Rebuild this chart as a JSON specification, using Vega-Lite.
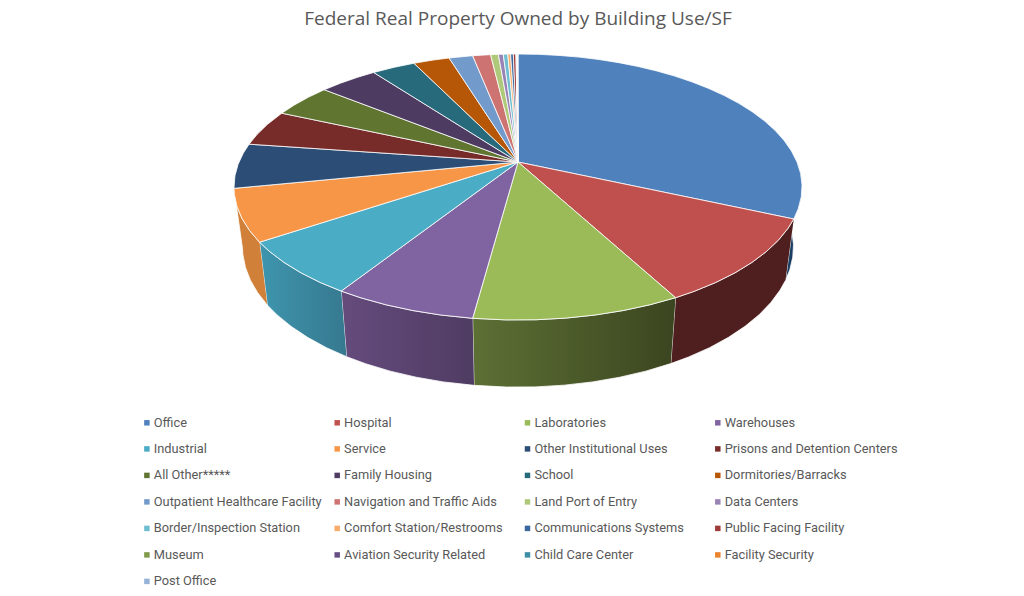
{
"$schema":"https://vega.github.io/schema/vega-lite/v6.json",
"width":1024,"height":596,"padding":0,"autosize":{"type":"none"},"background":"#ffffff",
"config":{"view":{"stroke":null}},
"title":{"text":"Federal Real Property Owned by Building Use/SF","font":"Open Sans","fontSize":19,"fontWeight":"normal","color":"#595959","anchor":"middle","dx":6,"dy":29,"offset":0},
"data":{"values":[
{"use":"Office","deg":-1,"r":0},{"use":"Office","deg":0,"r":1},{"use":"Office","deg":5,"r":1},{"use":"Office","deg":10,"r":1},{"use":"Office","deg":15,"r":1},{"use":"Office","deg":20,"r":1},{"use":"Office","deg":25,"r":1},{"use":"Office","deg":30,"r":1},{"use":"Office","deg":35,"r":1},{"use":"Office","deg":40,"r":1},{"use":"Office","deg":45,"r":1},{"use":"Office","deg":50,"r":1},{"use":"Office","deg":55,"r":1},{"use":"Office","deg":60,"r":1},{"use":"Office","deg":65,"r":1},{"use":"Office","deg":70,"r":1},{"use":"Office","deg":75,"r":1},{"use":"Office","deg":80,"r":1},{"use":"Office","deg":85,"r":1},{"use":"Office","deg":90,"r":1},{"use":"Office","deg":95,"r":1},{"use":"Office","deg":100,"r":1},{"use":"Office","deg":105,"r":1},{"use":"Office","deg":110,"r":1},{"use":"Office","deg":114.2,"r":1},{"use":"Office","deg":115.2,"r":0},
{"use":"Hospital","deg":113.2,"r":0},{"use":"Hospital","deg":114.2,"r":1},{"use":"Hospital","deg":118,"r":1},{"use":"Hospital","deg":123,"r":1},{"use":"Hospital","deg":128,"r":1},{"use":"Hospital","deg":133,"r":1},{"use":"Hospital","deg":138,"r":1},{"use":"Hospital","deg":143,"r":1},{"use":"Hospital","deg":148,"r":1},{"use":"Hospital","deg":151.9,"r":1},{"use":"Hospital","deg":152.9,"r":0},
{"use":"Laboratories","deg":150.9,"r":0},{"use":"Laboratories","deg":151.9,"r":1},{"use":"Laboratories","deg":157,"r":1},{"use":"Laboratories","deg":162,"r":1},{"use":"Laboratories","deg":167,"r":1},{"use":"Laboratories","deg":172,"r":1},{"use":"Laboratories","deg":177,"r":1},{"use":"Laboratories","deg":182,"r":1},{"use":"Laboratories","deg":187.6,"r":1},{"use":"Laboratories","deg":188.6,"r":0},
{"use":"Warehouses","deg":186.6,"r":0},{"use":"Warehouses","deg":187.6,"r":1},{"use":"Warehouses","deg":193,"r":1},{"use":"Warehouses","deg":198,"r":1},{"use":"Warehouses","deg":203,"r":1},{"use":"Warehouses","deg":208,"r":1},{"use":"Warehouses","deg":212.2,"r":1},{"use":"Warehouses","deg":213.2,"r":0},
{"use":"Industrial","deg":211.2,"r":0},{"use":"Industrial","deg":212.2,"r":1},{"use":"Industrial","deg":217,"r":1},{"use":"Industrial","deg":222,"r":1},{"use":"Industrial","deg":227,"r":1},{"use":"Industrial","deg":232,"r":1},{"use":"Industrial","deg":236,"r":1},{"use":"Industrial","deg":237,"r":0},
{"use":"Service","deg":235,"r":0},{"use":"Service","deg":236,"r":1},{"use":"Service","deg":241,"r":1},{"use":"Service","deg":246,"r":1},{"use":"Service","deg":251,"r":1},{"use":"Service","deg":256,"r":1},{"use":"Service","deg":258.6,"r":1},{"use":"Service","deg":259.6,"r":0},
{"use":"Other Institutional Uses","deg":257.6,"r":0},{"use":"Other Institutional Uses","deg":258.6,"r":1},{"use":"Other Institutional Uses","deg":264,"r":1},{"use":"Other Institutional Uses","deg":269,"r":1},{"use":"Other Institutional Uses","deg":274,"r":1},{"use":"Other Institutional Uses","deg":278.2,"r":1},{"use":"Other Institutional Uses","deg":279.2,"r":0},
{"use":"Prisons and Detention Centers","deg":277.2,"r":0},{"use":"Prisons and Detention Centers","deg":278.2,"r":1},{"use":"Prisons and Detention Centers","deg":283,"r":1},{"use":"Prisons and Detention Centers","deg":288,"r":1},{"use":"Prisons and Detention Centers","deg":294.2,"r":1},{"use":"Prisons and Detention Centers","deg":295.2,"r":0},
{"use":"All Other*****","deg":293.2,"r":0},{"use":"All Other*****","deg":294.2,"r":1},{"use":"All Other*****","deg":299,"r":1},{"use":"All Other*****","deg":304,"r":1},{"use":"All Other*****","deg":309.05,"r":1},{"use":"All Other*****","deg":310.05,"r":0},
{"use":"Family Housing","deg":308.05,"r":0},{"use":"Family Housing","deg":309.05,"r":1},{"use":"Family Housing","deg":314,"r":1},{"use":"Family Housing","deg":319,"r":1},{"use":"Family Housing","deg":323.45,"r":1},{"use":"Family Housing","deg":324.45,"r":0},
{"use":"School","deg":322.45,"r":0},{"use":"School","deg":323.45,"r":1},{"use":"School","deg":329,"r":1},{"use":"School","deg":334.15,"r":1},{"use":"School","deg":335.15,"r":0},
{"use":"Dormitories/Barracks","deg":333.15,"r":0},{"use":"Dormitories/Barracks","deg":334.15,"r":1},{"use":"Dormitories/Barracks","deg":339,"r":1},{"use":"Dormitories/Barracks","deg":343.06,"r":1},{"use":"Dormitories/Barracks","deg":344.06,"r":0},
{"use":"Outpatient Healthcare Facility","deg":342.06,"r":0},{"use":"Outpatient Healthcare Facility","deg":343.06,"r":1},{"use":"Outpatient Healthcare Facility","deg":348.9,"r":1},{"use":"Outpatient Healthcare Facility","deg":349.9,"r":0},
{"use":"Navigation and Traffic Aids","deg":347.9,"r":0},{"use":"Navigation and Traffic Aids","deg":348.9,"r":1},{"use":"Navigation and Traffic Aids","deg":353.3,"r":1},{"use":"Navigation and Traffic Aids","deg":354.3,"r":0},
{"use":"Land Port of Entry","deg":352.3,"r":0},{"use":"Land Port of Entry","deg":353.3,"r":1},{"use":"Land Port of Entry","deg":355.2,"r":1},{"use":"Land Port of Entry","deg":356.2,"r":0},
{"use":"Data Centers","deg":354.2,"r":0},{"use":"Data Centers","deg":355.2,"r":1},{"use":"Data Centers","deg":356.4,"r":1},{"use":"Data Centers","deg":357.4,"r":0},
{"use":"Border/Inspection Station","deg":355.4,"r":0},{"use":"Border/Inspection Station","deg":356.4,"r":1},{"use":"Border/Inspection Station","deg":357.5,"r":1},{"use":"Border/Inspection Station","deg":358.5,"r":0},
{"use":"Comfort Station/Restrooms","deg":356.5,"r":0},{"use":"Comfort Station/Restrooms","deg":357.5,"r":1},{"use":"Comfort Station/Restrooms","deg":358.2,"r":1},{"use":"Comfort Station/Restrooms","deg":359.2,"r":0},
{"use":"Communications Systems","deg":357.2,"r":0},{"use":"Communications Systems","deg":358.2,"r":1},{"use":"Communications Systems","deg":358.86,"r":1},{"use":"Communications Systems","deg":359.86,"r":0},
{"use":"Public Facing Facility","deg":357.86,"r":0},{"use":"Public Facing Facility","deg":358.86,"r":1},{"use":"Public Facing Facility","deg":359.5,"r":1},{"use":"Public Facing Facility","deg":360.5,"r":0},
{"use":"Museum","deg":358.5,"r":0},{"use":"Museum","deg":359.5,"r":1},{"use":"Museum","deg":359.6,"r":1},{"use":"Museum","deg":360.6,"r":0},
{"use":"Aviation Security Related","deg":358.6,"r":0},{"use":"Aviation Security Related","deg":359.6,"r":1},{"use":"Aviation Security Related","deg":359.7,"r":1},{"use":"Aviation Security Related","deg":360.7,"r":0},
{"use":"Child Care Center","deg":358.7,"r":0},{"use":"Child Care Center","deg":359.7,"r":1},{"use":"Child Care Center","deg":359.8,"r":1},{"use":"Child Care Center","deg":360.8,"r":0},
{"use":"Facility Security","deg":358.8,"r":0},{"use":"Facility Security","deg":359.8,"r":1},{"use":"Facility Security","deg":359.9,"r":1},{"use":"Facility Security","deg":360.9,"r":0},
{"use":"Post Office","deg":358.9,"r":0},{"use":"Post Office","deg":359.9,"r":1},{"use":"Post Office","deg":360,"r":1},{"use":"Post Office","deg":361,"r":0}
]},
"transform":[
{"calculate":"datum.deg*PI/180","as":"th"},
{"calculate":"1+0.188*datum.r*cos(datum.th)","as":"w"},
{"calculate":"datum.r*sin(datum.th)/datum.w","as":"X"},
{"calculate":"datum.r*cos(datum.th)/datum.w","as":"Y"},
{"calculate":"0","as":"f0"},
{"calculate":"1","as":"f1"}
],
"layer":[
{"transform":[{"filter":"datum.r==1&&datum.use=='Office'&&datum.deg>=90"},{"fold":["f0","f1"],"as":["side","sv"]},{"calculate":"datum.sv==0?datum.X:0.97*datum.X","as":"px"},{"calculate":"datum.sv==0?datum.Y:0.97*datum.Y-0.455/datum.w","as":"py"},{"calculate":"datum.sv==0?datum.deg:1000-datum.deg","as":"seq"}],
"mark":{"type":"line","fill":"#1d3e63","stroke":"#ffffff","strokeWidth":1,"strokeOpacity":0.8},
"encoding":{"x":{"field":"px","type":"quantitative","scale":{"domain":[-1.8566,1.8136],"nice":false,"zero":false},"axis":null},"y":{"field":"py","type":"quantitative","scale":{"domain":[-3.3827,1.2627],"nice":false,"zero":false},"axis":null},"order":{"field":"seq","type":"quantitative"}}},
{"transform":[{"filter":"datum.r==1&&datum.use=='Hospital'"},{"fold":["f0","f1"],"as":["side","sv"]},{"calculate":"datum.sv==0?datum.X:0.97*datum.X","as":"px"},{"calculate":"datum.sv==0?datum.Y:0.97*datum.Y-0.455/datum.w","as":"py"},{"calculate":"datum.sv==0?datum.deg:1000-datum.deg","as":"seq"}],
"mark":{"type":"line","fill":"#4e1f1e","stroke":"#ffffff","strokeWidth":1,"strokeOpacity":0.8},
"encoding":{"x":{"field":"px","type":"quantitative","axis":null},"y":{"field":"py","type":"quantitative","axis":null},"order":{"field":"seq","type":"quantitative"}}},
{"transform":[{"filter":"datum.r==1&&datum.use=='Laboratories'"},{"fold":["f0","f1"],"as":["side","sv"]},{"calculate":"datum.sv==0?datum.X:0.97*datum.X","as":"px"},{"calculate":"datum.sv==0?datum.Y:0.97*datum.Y-0.455/datum.w","as":"py"},{"calculate":"datum.sv==0?datum.deg:1000-datum.deg","as":"seq"}],
"mark":{"type":"line","fill":{"gradient":"linear","x1":0,"y1":0,"x2":1,"y2":0,"stops":[{"offset":0,"color":"#5d7034"},{"offset":1,"color":"#3b4520"}]},"stroke":"#ffffff","strokeWidth":1,"strokeOpacity":0.8},
"encoding":{"x":{"field":"px","type":"quantitative","axis":null},"y":{"field":"py","type":"quantitative","axis":null},"order":{"field":"seq","type":"quantitative"}}},
{"transform":[{"filter":"datum.r==1&&datum.use=='Warehouses'"},{"fold":["f0","f1"],"as":["side","sv"]},{"calculate":"datum.sv==0?datum.X:0.97*datum.X","as":"px"},{"calculate":"datum.sv==0?datum.Y:0.97*datum.Y-0.455/datum.w","as":"py"},{"calculate":"datum.sv==0?datum.deg:1000-datum.deg","as":"seq"}],
"mark":{"type":"line","fill":{"gradient":"linear","x1":0,"y1":0,"x2":1,"y2":0,"stops":[{"offset":0,"color":"#654b7d"},{"offset":1,"color":"#4f3c62"}]},"stroke":"#ffffff","strokeWidth":1,"strokeOpacity":0.8},
"encoding":{"x":{"field":"px","type":"quantitative","axis":null},"y":{"field":"py","type":"quantitative","axis":null},"order":{"field":"seq","type":"quantitative"}}},
{"transform":[{"filter":"datum.r==1&&datum.use=='Industrial'"},{"fold":["f0","f1"],"as":["side","sv"]},{"calculate":"datum.sv==0?datum.X:0.97*datum.X","as":"px"},{"calculate":"datum.sv==0?datum.Y:0.97*datum.Y-0.455/datum.w","as":"py"},{"calculate":"datum.sv==0?datum.deg:1000-datum.deg","as":"seq"}],
"mark":{"type":"line","fill":{"gradient":"linear","x1":0,"y1":0,"x2":1,"y2":0,"stops":[{"offset":0,"color":"#3e95ae"},{"offset":1,"color":"#36798f"}]},"stroke":"#ffffff","strokeWidth":1,"strokeOpacity":0.8},
"encoding":{"x":{"field":"px","type":"quantitative","axis":null},"y":{"field":"py","type":"quantitative","axis":null},"order":{"field":"seq","type":"quantitative"}}},
{"transform":[{"filter":"datum.r==1&&datum.use=='Service'"},{"fold":["f0","f1"],"as":["side","sv"]},{"calculate":"datum.sv==0?datum.X:0.97*datum.X","as":"px"},{"calculate":"datum.sv==0?datum.Y:0.97*datum.Y-0.455/datum.w","as":"py"},{"calculate":"datum.sv==0?datum.deg:1000-datum.deg","as":"seq"}],
"mark":{"type":"line","fill":"#d08038","stroke":"#ffffff","strokeWidth":1,"strokeOpacity":0.8},
"encoding":{"x":{"field":"px","type":"quantitative","axis":null},"y":{"field":"py","type":"quantitative","axis":null},"order":{"field":"seq","type":"quantitative"}}},
{"mark":{"type":"line","stroke":"#ffffff","strokeWidth":1,"strokeOpacity":0.8},
"encoding":{"x":{"field":"X","type":"quantitative","axis":null},"y":{"field":"Y","type":"quantitative","axis":null},"order":{"field":"deg","type":"quantitative"},
"fill":{"field":"use","type":"nominal",
"scale":{"domain":["Office","Hospital","Laboratories","Warehouses","Industrial","Service","Other Institutional Uses","Prisons and Detention Centers","All Other*****","Family Housing","School","Dormitories/Barracks","Outpatient Healthcare Facility","Navigation and Traffic Aids","Land Port of Entry","Data Centers","Border/Inspection Station","Comfort Station/Restrooms","Communications Systems","Public Facing Facility","Museum","Aviation Security Related","Child Care Center","Facility Security","Post Office"],
"range":["#4f81bd","#c0504d","#9bbb59","#8064a2","#4bacc6","#f79646","#2c4d75","#772c2a","#5f7530","#4d3b62","#276a7c","#b65708","#729aca","#cd7371","#afc97a","#9983b5","#6fbdd1","#f9ab6b","#3a679c","#9e3a38","#7f9a48","#664f85","#3e8ea5","#e9832c","#95b3d7"]},
"legend":{"title":null,"orient":"none","direction":"horizontal","legendX":140.5,"legendY":416,"columns":4,"gridAlign":"all","columnPadding":3.3,"rowPadding":12.5,"symbolType":"square","symbolSize":30,"symbolStrokeWidth":0,"symbolOpacity":1,"labelFont":"Roboto","labelFontSize":12.8,"labelColor":"#595959","labelLimit":220,"labelOffset":0.5}}}}
]}
